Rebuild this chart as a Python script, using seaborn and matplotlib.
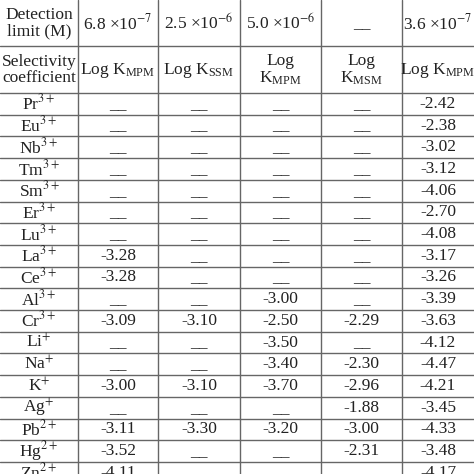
import matplotlib
matplotlib.use('Agg')
import matplotlib.pyplot as plt
import seaborn as sns

sns.set_style('white')
plt.rcParams['font.family'] = ['Liberation Serif', 'DejaVu Serif']
plt.rcParams['mathtext.fontset'] = 'stix'

# table content
detection = ['6.8 ×10$^{-7}$', '2.5 ×10$^{-6}$', '5.0 ×10$^{-6}$', '__', '3.6 ×10$^{-7}$']
selectivity = ['Log K$_{\\mathregular{MPM}}$', 'Log K$_{\\mathregular{SSM}}$',
               'Log\nK$_{\\mathregular{MPM}}$', 'Log\nK$_{\\mathregular{MSM}}$',
               'Log K$_{\\mathregular{MPM}}$']
ions = ['Pr$^{3+}$', 'Eu$^{3+}$', 'Nb$^{3+}$', 'Tm$^{3+}$', 'Sm$^{3+}$', 'Er$^{3+}$',
        'Lu$^{3+}$', 'La$^{3+}$', 'Ce$^{3+}$', 'Al$^{3+}$', 'Cr$^{3+}$', 'Li$^{+}$',
        'Na$^{+}$', 'K$^{+}$', 'Ag$^{+}$', 'Pb$^{2+}$', 'Hg$^{2+}$', 'Zn$^{2+}$']
D = '__'
values = [
    [D, D, D, D, '-2.42'],
    [D, D, D, D, '-2.38'],
    [D, D, D, D, '-3.02'],
    [D, D, D, D, '-3.12'],
    [D, D, D, D, '-4.06'],
    [D, D, D, D, '-2.70'],
    [D, D, D, D, '-4.08'],
    ['-3.28', D, D, D, '-3.17'],
    ['-3.28', D, D, D, '-3.26'],
    [D, D, '-3.00', D, '-3.39'],
    ['-3.09', '-3.10', '-2.50', '-2.29', '-3.63'],
    [D, D, '-3.50', D, '-4.12'],
    [D, D, '-3.40', '-2.30', '-4.47'],
    ['-3.00', '-3.10', '-3.70', '-2.96', '-4.21'],
    [D, D, D, '-1.88', '-3.45'],
    ['-3.11', '-3.30', '-3.20', '-3.00', '-4.33'],
    ['-3.52', D, D, '-2.31', '-3.48'],
    ['-4.11', D, D, D, '-4.17'],
]

col_edges = [0, 78, 158, 240, 321, 402, 474]
header_edges = [0, 46, 93]
row_h = 21.7

fig = plt.figure(figsize=(4.74, 4.74), dpi=100)
ax = fig.add_axes([0, 0, 1, 1])
ax.set_xlim(0, 474)
ax.set_ylim(474, 0)
ax.axis('off')

lc = '#666666'
fs = 12.5
n_rows = len(ions)
row_edges = [93 + i * row_h for i in range(n_rows + 1)]
for x in col_edges[1:-1]:
    ax.plot([x, x], [0, 474], color=lc, lw=1)
for y in header_edges[1:] + row_edges[1:]:
    ax.plot([0, 474], [y, y], color=lc, lw=1)

cx = [(col_edges[i] + col_edges[i + 1]) / 2 for i in range(len(col_edges) - 1)]


def put(x, y, s, **kw):
    ax.text(x, y, s, ha='center', va='center', fontsize=fs, color='#222222',
            linespacing=1.0, clip_on=True, **kw)


put(cx[0], 23, 'Detection\nlimit (M)')
put(cx[0], 70, 'Selectivity\ncoefficient')
for j in range(5):
    put(cx[j + 1], 23 if detection[j] != D else 24, detection[j])
    put(cx[j + 1], 70, selectivity[j])

for i, ion in enumerate(ions):
    yc = (row_edges[i] + row_edges[i + 1]) / 2
    put(cx[0], yc, ion)
    for j, v in enumerate(values[i]):
        put(cx[j + 1], yc + 1 if v == D else yc, v)

fig.savefig('out.png', dpi=100)
